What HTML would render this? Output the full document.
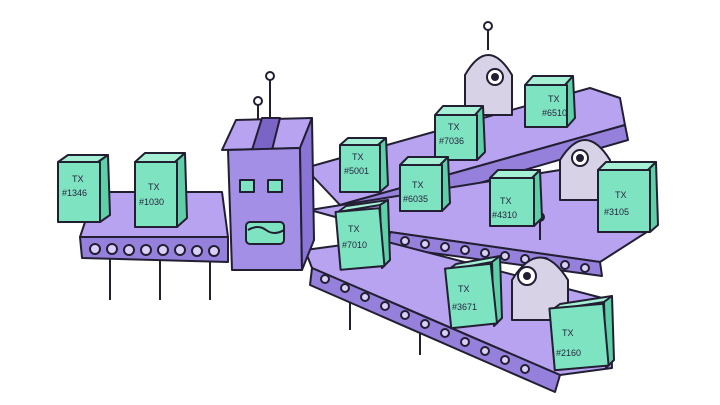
<!DOCTYPE html>
<html><head><meta charset="utf-8"><style>
html,body{margin:0;padding:0;background:#fff;width:720px;height:405px;overflow:hidden}
text{font-family:"Liberation Sans",sans-serif;fill:#2a2340;font-size:9px;stroke:none}
</style></head><body>
<svg width="720" height="405" viewBox="0 0 720 405" xmlns="http://www.w3.org/2000/svg" stroke="#231f33" stroke-width="2" stroke-linejoin="round">
<g>
<line x1="110" y1="255" x2="110" y2="300"/><line x1="160" y1="258" x2="160" y2="300"/><line x1="210" y1="258" x2="210" y2="300"/>
<polygon points="95,192 222,192 228,237 80,237" fill="#b7a3ef"/>
<polygon points="80,237 228,237 228,262 82,258" fill="#9580dc"/>
<g fill="#d9cff8"><circle cx="95" cy="249" r="5"/><circle cx="112" cy="249" r="5"/><circle cx="129" cy="250" r="5"/><circle cx="146" cy="250" r="5"/><circle cx="163" cy="250" r="5"/><circle cx="180" cy="250" r="5"/><circle cx="197" cy="251" r="5"/><circle cx="214" cy="251" r="5"/></g>
</g>
<g>
<line x1="350" y1="285" x2="350" y2="330"/><line x1="420" y1="310" x2="420" y2="355"/><line x1="440" y1="255" x2="440" y2="275"/><line x1="500" y1="260" x2="500" y2="285"/><line x1="560" y1="265" x2="560" y2="290"/><line x1="470" y1="180" x2="470" y2="195"/>
<polygon points="305,168 590,88 620,98 625,125 340,205" fill="#b7a3ef"/>
<polygon points="340,205 625,125 628,140 345,222" fill="#9580dc"/>
<polygon points="310,210 560,170 640,185 650,230 600,262 390,232" fill="#b7a3ef"/>
<polygon points="390,232 600,262 602,276 388,247" fill="#9580dc"/>
<g fill="#d9cff8"><circle cx="405" cy="241" r="4"/><circle cx="425" cy="244" r="4"/><circle cx="445" cy="247" r="4"/><circle cx="465" cy="250" r="4"/><circle cx="485" cy="253" r="4"/><circle cx="505" cy="256" r="4"/><circle cx="525" cy="259" r="4"/><circle cx="545" cy="262" r="4"/><circle cx="565" cy="265" r="4"/><circle cx="585" cy="268" r="4"/></g>
<polygon points="305,250 380,240 610,300 612,368 560,375 312,268" fill="#b7a3ef"/>
<polygon points="312,268 560,375 555,392 310,285" fill="#9580dc"/>
<g fill="#d9cff8"><circle cx="325" cy="279" r="4"/><circle cx="345" cy="288" r="4"/><circle cx="365" cy="297" r="4"/><circle cx="385" cy="306" r="4"/><circle cx="405" cy="315" r="4"/><circle cx="425" cy="324" r="4"/><circle cx="445" cy="333" r="4"/><circle cx="465" cy="342" r="4"/><circle cx="485" cy="351" r="4"/><circle cx="505" cy="360" r="4"/><circle cx="525" cy="369" r="4"/></g>
</g>
<g>
<line x1="270" y1="80" x2="270" y2="125"/><circle cx="270" cy="76" r="4" fill="#fff"/>
<line x1="258" y1="105" x2="258" y2="125"/><circle cx="258" cy="101" r="4" fill="#fff"/>
<polygon points="222,150 236,120 312,118 300,148" fill="#b7a3ef"/>
<polygon points="252,150 262,118 280,118 272,150" fill="#7a64c6"/>
<polygon points="228,150 300,148 302,270 232,270" fill="#a48fe6"/>
<polygon points="300,148 312,118 314,240 302,270" fill="#8a75d6"/>
<rect x="240" y="180" width="14" height="12" fill="#7de3c0"/><rect x="268" y="180" width="14" height="12" fill="#7de3c0"/>
<rect x="246" y="222" width="38" height="22" rx="4" fill="#7de3c0"/>
<path d="M248 230 q10-6 18 0 t18 0" fill="none"/>
</g>
<g fill="#d8d2e6">
<line x1="488" y1="28" x2="488" y2="50"/><circle cx="488" cy="26" r="4" fill="#fff"/>
<path d="M465 115 L465 75 Q488 35 512 75 L512 115 Z"/><circle cx="495" cy="77" r="8" fill="#fff"/><circle cx="495" cy="77" r="3" fill="#231f33"/>
<path d="M560 200 L560 160 Q585 120 610 160 L610 200 Z"/><circle cx="580" cy="158" r="8" fill="#fff"/><circle cx="580" cy="158" r="3" fill="#231f33"/>
<line x1="540" y1="220" x2="540" y2="240"/><circle cx="540" cy="217" r="4" fill="#fff"/>
<path d="M512 320 L512 280 Q540 235 568 280 L568 320 Z"/><circle cx="527" cy="276" r="9" fill="#fff"/><circle cx="527" cy="276" r="3" fill="#231f33"/>
</g>
<g fill="#7de3c0">
<g><polygon points="58,162 98,162 108,155 68,155" fill="#a5efd4"/><polygon points="98,162 108,155 110,215 100,222" fill="#5fcfa8"/><rect x="58" y="162" width="42" height="60"/><text x="72" y="182">TX</text><text x="62" y="196">#1346</text></g>
<g><polygon points="135,162 175,162 185,153 145,153" fill="#a5efd4"/><polygon points="175,162 185,153 187,218 177,227" fill="#5fcfa8"/><rect x="135" y="162" width="42" height="65"/><text x="148" y="190">TX</text><text x="139" y="205">#1030</text></g>
<g><polygon points="340,145 378,145 386,138 348,138" fill="#a5efd4"/><polygon points="378,145 386,138 388,185 380,192" fill="#5fcfa8"/><rect x="340" y="145" width="40" height="47"/><text x="352" y="160">TX</text><text x="344" y="174">#5001</text></g>
<g><polygon points="435,115 475,115 483,106 443,106" fill="#a5efd4"/><polygon points="475,115 483,106 485,152 477,160" fill="#5fcfa8"/><rect x="435" y="115" width="42" height="45"/><text x="448" y="130">TX</text><text x="439" y="144">#7036</text></g>
<g><polygon points="525,85 565,85 573,76 533,76" fill="#a5efd4"/><polygon points="565,85 573,76 575,118 567,127" fill="#5fcfa8"/><rect x="525" y="85" width="42" height="42"/><text x="548" y="102">TX</text><text x="542" y="116">#6510</text></g>
<g><polygon points="400,165 440,165 448,157 408,157" fill="#a5efd4"/><polygon points="440,165 448,157 450,203 442,211" fill="#5fcfa8"/><rect x="400" y="165" width="42" height="46"/><text x="412" y="188">TX</text><text x="403" y="202">#6035</text></g>
<g><polygon points="490,178 532,178 540,170 498,170" fill="#a5efd4"/><polygon points="532,178 540,170 542,218 534,226" fill="#5fcfa8"/><rect x="490" y="178" width="44" height="48"/><text x="500" y="204">TX</text><text x="492" y="218">#4310</text></g>
<g><polygon points="598,170 648,170 656,162 606,162" fill="#a5efd4"/><polygon points="648,170 656,162 658,225 650,232" fill="#5fcfa8"/><rect x="598" y="170" width="52" height="62"/><text x="615" y="198">TX</text><text x="604" y="215">#3105</text></g>
<g><polygon points="338,212 380,205 388,200 346,206" fill="#a5efd4"/><polygon points="380,205 388,200 390,260 382,268" fill="#5fcfa8"/><rect x="338" y="210" width="44" height="58" transform="rotate(-5 360 239)"/><text x="348" y="232">TX</text><text x="342" y="248">#7010</text></g>
<g><polygon points="448,270 492,262 500,256 456,264" fill="#a5efd4"/><polygon points="492,262 500,256 502,318 494,326" fill="#5fcfa8"/><rect x="448" y="266" width="46" height="60" transform="rotate(-6 471 296)"/><text x="458" y="292">TX</text><text x="452" y="310">#3671</text></g>
<g><polygon points="552,310 604,302 612,296 560,304" fill="#a5efd4"/><polygon points="604,302 612,296 614,360 606,368" fill="#5fcfa8"/><rect x="552" y="306" width="54" height="62" transform="rotate(-5 579 337)"/><text x="562" y="336">TX</text><text x="556" y="356">#2160</text></g>
</g>
</svg>
</body></html>
